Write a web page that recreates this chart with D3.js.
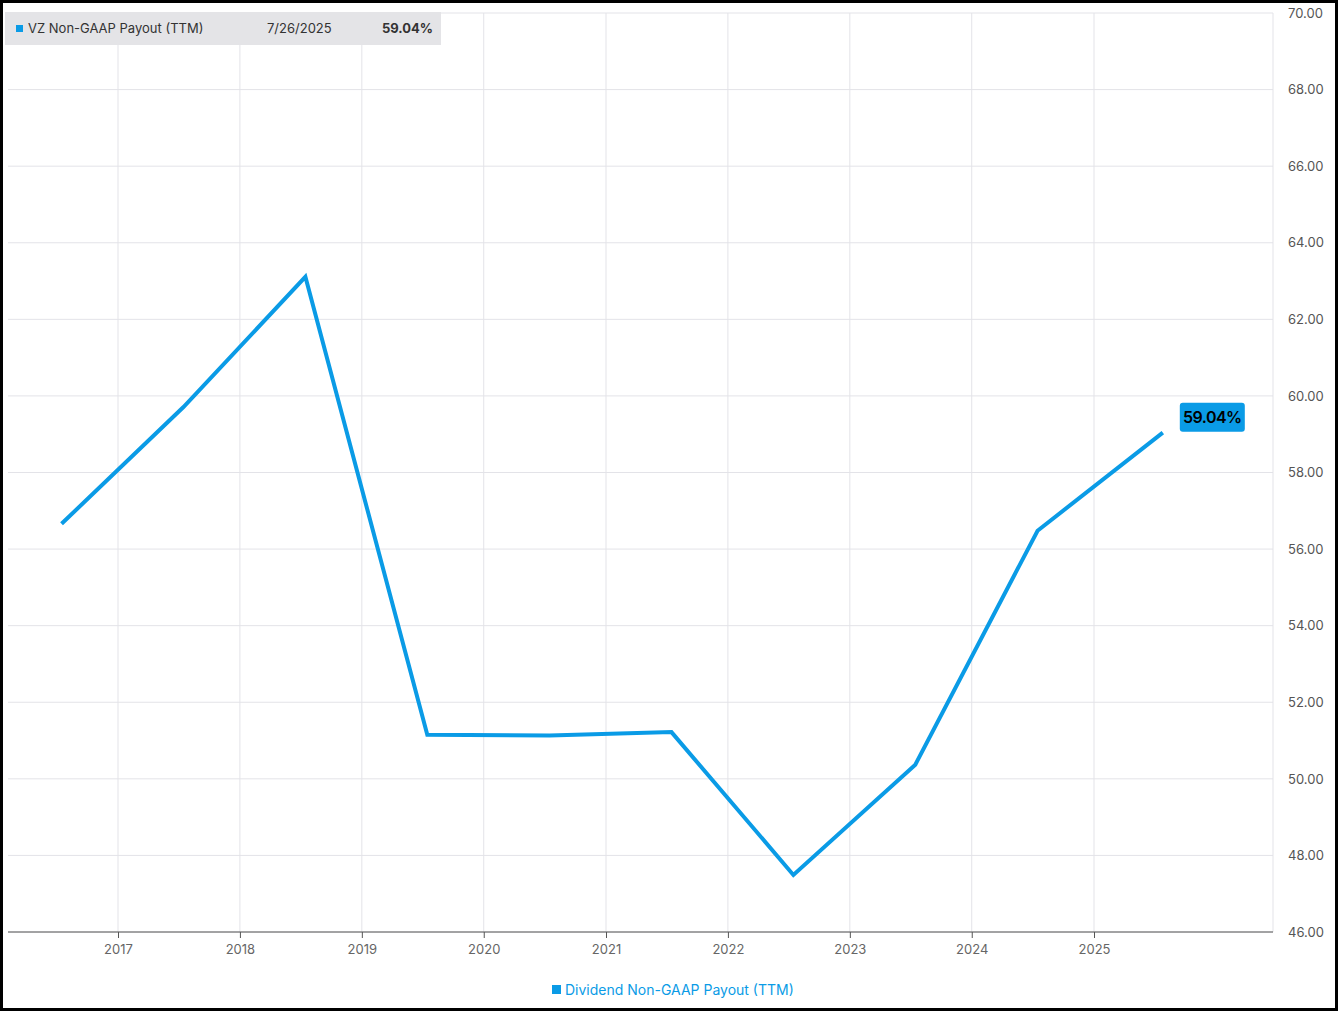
<!DOCTYPE html>
<html><head><meta charset="utf-8">
<script src="https://cdn.jsdelivr.net/npm/d3@7"></script>
<style>
body{margin:0;background:#fff;font-family:Inter,"Noto Sans",sans-serif;}
#frame{position:absolute;left:0;top:0;width:1332px;height:1005px;border:3px solid #000;}
</style></head><body>
<div id="frame"></div>
<svg id="chart" width="1338" height="1011" style="position:absolute;left:0;top:0"></svg>
<script>
const dates = ["2016-07-16","2017-07-16","2018-07-16","2019-07-16","2020-07-16","2021-07-16","2022-07-16","2023-07-16","2024-07-16","2025-07-26"];
const payout = [56.66, 59.71, 63.11, 51.15, 51.13, 51.22, 47.49, 50.37, 56.48, 59.04];
const yTicks = [46,48,50,52,54,56,58,60,62,64,66,68,70];
const xYears = [2017,2018,2019,2020,2021,2022,2023,2024,2025];

const svg = d3.select("#chart");
const parse = d3.timeParse("%Y-%m-%d");
const data = dates.map((d,i)=>({date:parse(d), v:payout[i]}));

const plotL = 8, plotR = 1273, plotT = 13, plotB = 932;
// 2017-01-01 sits at 118, 2025-01-01 at 1094
const x = d3.scaleTime().domain([new Date(2017,0,1), new Date(2025,0,1)]).range([118, 1094]);
const y = d3.scaleLinear().domain([46,70]).range([plotB, plotT]);

const grid = svg.append("g");
grid.selectAll("line.h").data(yTicks).enter().append("line")
  .attr("x1", plotL).attr("x2", plotR).attr("y1", d=>y(d)).attr("y2", d=>y(d))
  .attr("stroke", "#e3e3e8");
grid.selectAll("line.v").data(xYears).enter().append("line")
  .attr("x1", d=>x(new Date(d,0,1))).attr("x2", d=>x(new Date(d,0,1)))
  .attr("y1", plotT).attr("y2", plotB).attr("stroke", "#e3e3e8");
svg.append("line").attr("x1", plotR).attr("x2", plotR).attr("y1", plotT).attr("y2", plotB).attr("stroke", "#e3e3e8");
svg.append("line").attr("x1", plotL).attr("x2", plotR).attr("y1", plotB).attr("y2", plotB).attr("stroke", "#555");

const yAxis = d3.axisRight(y).tickValues(yTicks).tickSize(0).tickPadding(15).tickFormat(d3.format(".2f"));
svg.append("g").attr("transform", `translate(${plotR},0)`).call(yAxis)
  .call(g=>g.select(".domain").remove())
  .selectAll("text").attr("fill","#555").attr("font-size",13).attr("font-family","Inter,sans-serif");

const xAxis = d3.axisBottom(x).tickValues(xYears.map(d=>new Date(d,0,1))).tickSize(6).tickFormat(d3.timeFormat("%Y"));
svg.append("g").attr("transform", `translate(0,${plotB})`).call(xAxis)
  .call(g=>g.select(".domain").remove())
  .call(g=>g.selectAll("line").attr("stroke","#555"))
  .selectAll("text").attr("fill","#666").attr("font-size",13).attr("font-family","Inter,sans-serif").attr("dy","1em");

svg.append("path").datum(data)
  .attr("d", d3.line().x(d=>x(d.date)).y(d=>y(d.v)))
  .attr("fill","none").attr("stroke","#0a9be6").attr("stroke-width",4).attr("stroke-linejoin","miter");

// last value label
const last = data[data.length-1];
const lg = svg.append("g").attr("transform", `translate(${x(last.date)+17},${y(last.v)-30})`);
lg.append("rect").attr("width",65).attr("height",29).attr("rx",3).attr("fill","#0a9be6");
lg.append("text").attr("x",32.5).attr("y",20).attr("text-anchor","middle").attr("font-size",16)
  .attr("font-weight",600).attr("letter-spacing","-0.5").attr("fill","#000").text(d3.format(".2f")(last.v)+"%");

// top legend box
const tb = svg.append("g").attr("transform","translate(5,12)");
tb.append("rect").attr("width",436).attr("height",33).attr("fill","#e4e4e7");
tb.append("rect").attr("x",11).attr("y",13).attr("width",7).attr("height",7).attr("fill","#0a9be6");
tb.append("text").attr("x",23).attr("y",21).attr("font-size",13).attr("fill","#333").text("VZ Non-GAAP Payout (TTM)");
tb.append("text").attr("x",262).attr("y",21).attr("font-size",13).attr("fill","#333").text(d3.timeFormat("%-m/%-d/%Y")(last.date));
tb.append("text").attr("x",428).attr("y",21).attr("text-anchor","end").attr("font-size",13).attr("font-weight",700).attr("fill","#333").text(d3.format(".2f")(last.v)+"%");

// bottom legend
const bl = svg.append("g").attr("transform","translate(552,995)");
bl.append("rect").attr("x",0).attr("y",-10).attr("width",9).attr("height",9).attr("fill","#0a9be6");
bl.append("text").attr("x",13).attr("y",0).attr("font-size",14).attr("fill","#0a9be6").text("Dividend Non-GAAP Payout (TTM)");
</script>
</body></html>
